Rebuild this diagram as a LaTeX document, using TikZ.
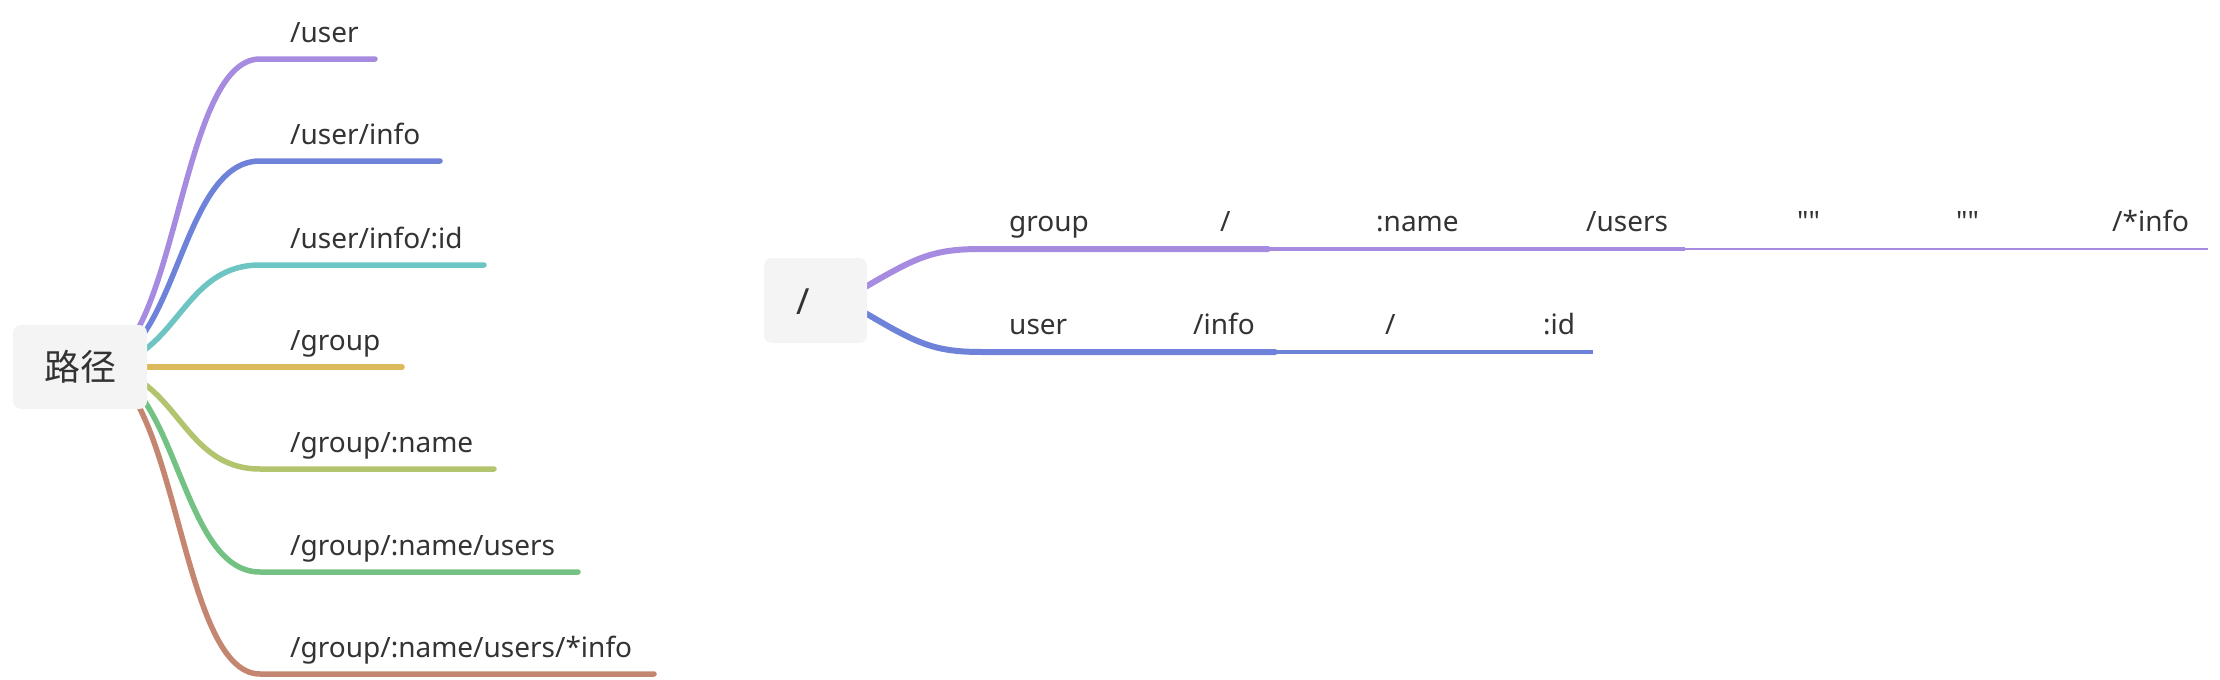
\documentclass[tikz,border=0pt]{standalone}
\usepackage{fontspec}
\setmainfont[Ligatures=TeXOff]{Noto Sans}
\newfontfamily\cjk{Noto Sans CJK SC}
\definecolor{cPurple}{HTML}{A68BE0}
\definecolor{cBlue}{HTML}{6F82DA}
\definecolor{cTeal}{HTML}{6CC5C3}
\definecolor{cYellow}{HTML}{DCB95B}
\definecolor{cOlive}{HTML}{B3C46F}
\definecolor{cGreen}{HTML}{73C283}
\definecolor{cBrown}{HTML}{C48670}
\definecolor{txt}{HTML}{333333}
\definecolor{boxfill}{HTML}{F4F4F4}
\begin{document}
\begin{tikzpicture}[x=1pt,y=-1pt,
  lbl/.style={anchor=base west, inner sep=0pt, text=txt, font=\fontsize{28}{34}\selectfont},
  rootbox/.style={fill=boxfill, rounded corners=8pt, text=txt, font=\fontsize{36}{42}\selectfont, inner sep=0pt},
  br/.style={line width=5.5pt, line cap=round},
  thick1/.style={line width=6pt, line cap=round},
  mid1/.style={line width=4pt},
  thin1/.style={line width=2.6pt}]
\useasboundingbox (0,0) rectangle (2220,680);

% ---------- left tree ----------
\coordinate (s) at (92,367);
\foreach \n/\y/\xe/\c in {1/59/375/cPurple, 2/161/440/cBlue, 3/265/484/cTeal,
    5/469/494/cOlive, 6/572/578/cGreen, 7/674/654/cBrown}{
  \coordinate (e\n) at (260,\y);
  \coordinate (f\n) at (\xe,\y);
  \draw[br,\c] (s) .. controls (178,367) and (178,\y) .. (e\n) -- (f\n);
}
\coordinate (f4) at (402,367);
\draw[br,cYellow] (s) -- (f4);

\node[rootbox, minimum width=134pt, minimum height=84pt] (root) at (80,367) {\cjk 路径};

\node[lbl] (t1) at (290,42) {/user};
\node[lbl] (t2) at (290,144) {/user/info};
\node[lbl] (t3) at (290,248) {/user/info/:id};
\node[lbl] (t4) at (290,350) {/group};
\node[lbl] (t5) at (290,452) {/group/:name};
\node[lbl] (t6) at (290,555) {/group/:name/users};
\node[lbl] (t7) at (290,657) {/group/:name/users/*info};

% ---------- right tree ----------
\coordinate (us) at (855,293);
\coordinate (ua) at (982,249);
\coordinate (ub) at (1268,249);
\coordinate (uc) at (1685,249);
\coordinate (ud) at (2208,249);
\draw[thick1,cPurple] (us) .. controls (915,258) and (930,249) .. (ua) -- (ub);
\draw[mid1,cPurple] (ub) -- (uc);
\draw[thin1,cPurple] (uc) -- (ud);

\coordinate (ls) at (855,307);
\coordinate (la) at (982,352);
\coordinate (lb) at (1275,352);
\coordinate (lc) at (1593,352);
\draw[thick1,cBlue] (ls) .. controls (915,342) and (930,352) .. (la) -- (lb);
\draw[mid1,cBlue] (lb) -- (lc);

\node[rootbox, minimum width=103pt, minimum height=85pt] (root2) at (815.5,300.5) {};
\node[anchor=base west, inner sep=0pt, text=txt, font=\fontsize{36}{42}\selectfont] (r2t) at (796,314) {/};

\node[lbl] (g1) at (1009,231) {group};
\node[lbl] (g2) at (1220,231) {/};
\node[lbl] (g3) at (1376,231) {:name};
\node[lbl] (g4) at (1586,231) {/users};
\node[lbl] (g5) at (1797,231) {""};
\node[lbl] (g6) at (1956,231) {""};
\node[lbl] (g7) at (2112,231) {/*info};

\node[lbl] (h1) at (1009,334) {user};
\node[lbl] (h2) at (1193,334) {/info};
\node[lbl] (h3) at (1385,334) {/};
\node[lbl] (h4) at (1543,334) {:id};
\end{tikzpicture}
\end{document}
